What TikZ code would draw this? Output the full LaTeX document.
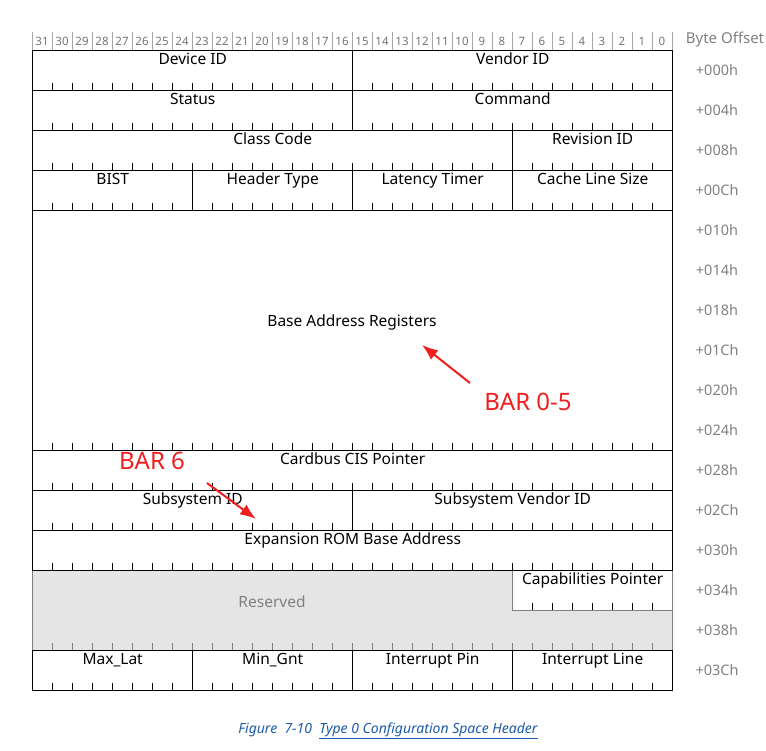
\documentclass[tikz,border=0pt]{standalone}
\usepackage{fontspec}
\setmainfont{Noto Sans}
\usepackage{tikz}
\usetikzlibrary{positioning,arrows.meta}

\definecolor{resgray}{RGB}{229,229,229}
\definecolor{capblue}{RGB}{30,90,170}
\definecolor{barred}{RGB}{240,30,30}

% field box: name, row, high bit, low bit, rows tall, text
\newcommand{\regfield}[6]{%
  \node[field, minimum width={((#3)-(#4)+1)*20pt}, minimum height={(#5)*40pt},
        anchor=north west] (#1) at ({32+(31-(#3))*20}, {50+(#2)*40}) {};
  \node[fieldtext, anchor=north] (#1txt) at (#1.north) {#6};}

\begin{document}
\begin{tikzpicture}[x=1pt, y=-1pt,
    field/.style = {draw, line width=1.4pt, inner sep=0pt},
    fieldtext/.style = {font=\fontsize{15.5}{16}\selectfont, inner sep=0pt, yshift=-3pt, text depth=0pt},
    bitnum/.style = {font=\fontsize{11.5}{12}\selectfont, text=gray!90!black},
    offs/.style = {font=\fontsize{14.5}{15}\selectfont, text=gray},
    tick/.style = {line width=0.8pt},
    bar/.style = {font=\fontsize{24}{26}\selectfont, text=barred},
    bararrow/.style = {->, barred, line width=2pt, >={Latex[length=16pt,width=12pt]}}]
\useasboundingbox (0,0) rectangle (766,750);

% bit numbers
\foreach \b in {0,...,31} {
  \node[bitnum] (bit\b) at ({32+(31-\b)*20+10}, 41) {\b};
  \draw[gray!70, line width=0.6pt] ({32+(31-\b)*20}, 32) -- ({32+(31-\b)*20}, 50);
}
\draw[gray!70, line width=0.6pt] (672, 32) -- (672, 50);
\node[offs, font=\fontsize{15}{16}\selectfont] (hdr) at (725, 40) {Byte Offset};

% reserved area
\node[draw=gray, fill=resgray, line width=1.4pt, minimum width=640pt, minimum height=80pt,
      anchor=north west, inner sep=0pt] (res) at (32, 570) {};
\node[text=gray, font=\fontsize{15.5}{16}\selectfont] (restxt) at (272, 602) {Reserved};
\node[draw=gray, fill=white, line width=1.4pt, minimum width=160pt, minimum height=40pt,
      anchor=north west, inner sep=0pt] (cap) at (512, 570) {};
\node[fieldtext, anchor=north] (captxt) at (cap.north) {Capabilities Pointer};

% fields
\regfield{devid}{0}{31}{16}{1}{Device ID}
\regfield{vendid}{0}{15}{0}{1}{Vendor ID}
\regfield{status}{1}{31}{16}{1}{Status}
\regfield{cmd}{1}{15}{0}{1}{Command}
\regfield{class}{2}{31}{8}{1}{Class Code}
\regfield{rev}{2}{7}{0}{1}{Revision ID}
\regfield{bist}{3}{31}{24}{1}{BIST}
\regfield{hdrtype}{3}{23}{16}{1}{Header Type}
\regfield{lat}{3}{15}{8}{1}{Latency Timer}
\regfield{cache}{3}{7}{0}{1}{Cache Line Size}
\regfield{bars}{4}{31}{0}{6}{}
\node[font=\fontsize{15.5}{16}\selectfont] (barstxt) at (352, 322) {Base Address Registers};
\regfield{cis}{10}{31}{0}{1}{Cardbus CIS Pointer}
\regfield{subid}{11}{31}{16}{1}{Subsystem ID}
\regfield{subvid}{11}{15}{0}{1}{Subsystem Vendor ID}
\regfield{rom}{12}{31}{0}{1}{Expansion ROM Base Address}
\regfield{maxlat}{15}{31}{24}{1}{Max\_Lat}
\regfield{mingnt}{15}{23}{16}{1}{Min\_Gnt}
\regfield{intpin}{15}{15}{8}{1}{Interrupt Pin}
\regfield{intline}{15}{7}{0}{1}{Interrupt Line}

% bit ticks along row bottoms
\foreach \y in {90,130,170,210,450,490,530,570,690} {
  \foreach \k in {1,...,31}
    \draw[tick] ({32+\k*20}, \y) -- ({32+\k*20}, \y-7);
}
\foreach \k in {25,...,31}
  \draw[tick] ({32+\k*20}, 610) -- ({32+\k*20}, 603);
\foreach \k in {1,...,31}
  \draw[tick, gray] ({32+\k*20}, 650) -- ({32+\k*20}, 643);

% byte offsets
\foreach \r/\t in {0/000h,1/004h,2/008h,3/00Ch,4/010h,5/014h,6/018h,7/01Ch,
                   8/020h,9/024h,10/028h,11/02Ch,12/030h,13/034h,14/038h,15/03Ch}
  \node[offs] (off\r) at (717, {70+\r*40}) {+\t};

% annotations
\node[bar] (bar05) at (528, 402) {BAR 0-5};
\coordinate (bar05tip) at (422, 345);
\coordinate (bar05tail) at (470, 383);
\draw[bararrow] (bar05tail) -- (bar05tip);
\node[bar] (bar6) at (152, 461) {BAR 6};
\coordinate (bar6tip) at (256, 519);
\coordinate (bar6tail) at (207, 483);
\draw[bararrow] (bar6tail) -- (bar6tip);

% caption
\node[text=capblue, font=\itshape\fontsize{14}{15}\selectfont] (caption) at (388, 731)
  {Figure\ \ 7-10\ \ \underline{Type 0 Configuration Space Header}};
\end{tikzpicture}
\end{document}
